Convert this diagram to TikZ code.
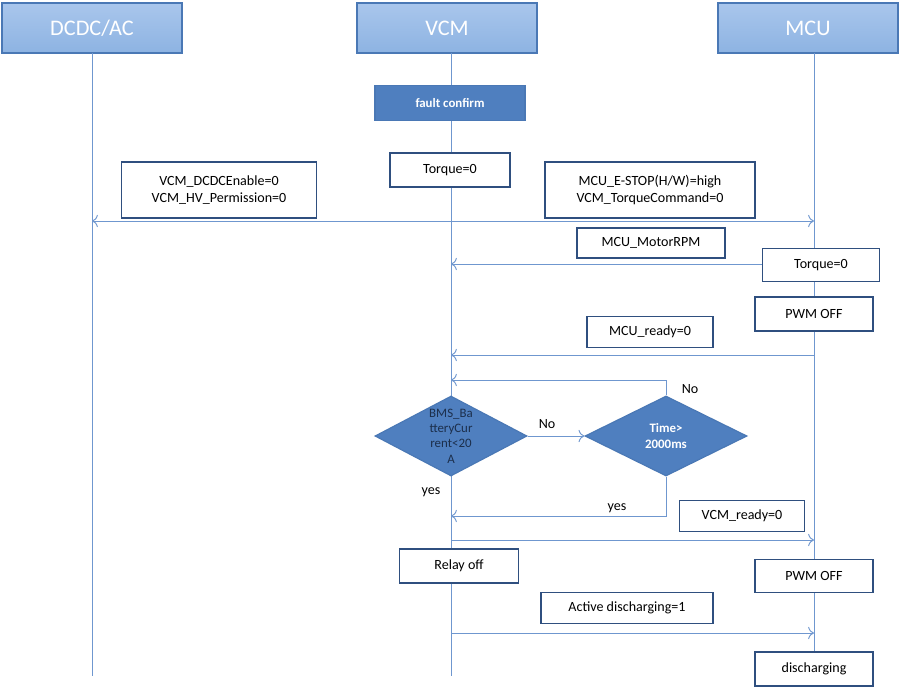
\documentclass[tikz,border=0pt]{standalone}
\usepackage{fontspec}
\setmainfont{Carlito}
\usetikzlibrary{shapes.geometric,arrows.meta}
\definecolor{hdr}{HTML}{8DB3E2}
\definecolor{hdrtop}{HTML}{A9C6EC}
\definecolor{hdrb}{HTML}{4A78B5}
\definecolor{dk}{HTML}{4F7FBF}
\definecolor{ln}{HTML}{6F97CF}
\definecolor{bx}{HTML}{2F4F7F}
\tikzset{
 hd/.style={draw=hdrb,line width=1pt,top color=hdrtop,bottom color=hdr,text=white,font=\fontsize{19}{21}\selectfont,inner sep=0pt},
 bx/.style={draw=bx,line width=1pt,fill=white,font=\fontsize{12}{15}\selectfont,inner sep=0pt,align=center},
 life/.style={draw=ln,line width=0.8pt},
 msg/.style={draw=ln,line width=0.8pt,-{To[length=5pt]}},
 dia/.style={diamond,draw=hdrb,fill=dk,line width=1pt,inner sep=0pt,aspect=1.9,align=center,font=\fontsize{11}{13}\selectfont},
 lbl/.style={font=\fontsize{12}{14}\selectfont,inner sep=1pt}
}
\begin{document}
\begin{tikzpicture}[x=0.03cm,y=-0.03cm]
\useasboundingbox (0,0) rectangle (901,686);
\fill[white] (0,0) rectangle (901,686);
% headers
\node[hd,minimum width=5.4cm,minimum height=1.5cm] (h1) at (92,28) {DCDC/AC};
\node[hd,minimum width=5.4cm,minimum height=1.5cm] (h2) at (447,28) {VCM};
\node[hd,minimum width=5.4cm,minimum height=1.5cm] (h3) at (808,28) {MCU};
% lifelines
\coordinate (d0) at (92,53); \coordinate (d1) at (92,676);
\coordinate (v0) at (451,53); \coordinate (v1) at (451,676);
\coordinate (m0) at (814,53); \coordinate (m1) at (814,676);
\draw[life] (d0)--(d1); \draw[life] (v0)--(v1); \draw[life] (m0)--(m1);
% fault confirm
\node[draw=hdrb,fill=dk,line width=1pt,text=white,font=\bfseries\fontsize{11}{13}\selectfont,minimum width=4.5cm,minimum height=1.05cm] (fc) at (450,103) {fault confirm};
\node[bx,minimum width=3.6cm,minimum height=1.02cm] (tq1) at (450,170) {Torque=0};
\node[bx,minimum width=5.85cm,minimum height=1.68cm] (dcdc) at (219,190) {VCM\_DCDCEnable=0\\VCM\_HV\_Permission=0};
\node[bx,minimum width=6.3cm,minimum height=1.68cm] (estop) at (650,190) {MCU\_E-STOP(H/W)=high\\VCM\_TorqueCommand=0};
\coordinate (a1l) at (92,221); \coordinate (a1r) at (814,221);
\draw[msg,{To[length=5pt]}-{To[length=5pt]}] (a1l)--(a1r);
\node[bx,minimum width=4.44cm,minimum height=0.9cm] (rpm) at (651,243) {MCU\_MotorRPM};
\coordinate (a2m) at (814,264); \coordinate (a2v) at (451,264);
\draw[msg] (a2m)--(a2v);
\node[bx,minimum width=3.5cm,minimum height=1.0cm] (tq2) at (821,265) {Torque=0};
\node[bx,minimum width=3.54cm,minimum height=1.02cm] (pwm1) at (814,314) {PWM OFF};
\node[bx,minimum width=3.78cm,minimum height=0.93cm] (rdy) at (650,332) {MCU\_ready=0};
\coordinate (a3m) at (814,355); \coordinate (a3v) at (451,355);
\draw[msg] (a3m)--(a3v);
% decisions
\node[dia,minimum width=4.56cm,minimum height=2.4cm,text=bx!60!black] (bms) at (451,436) {BMS\_Ba\\tteryCur\\rent<20\\A};
\node[dia,minimum width=4.86cm,minimum height=2.4cm,text=white,font=\bfseries\fontsize{11}{14}\selectfont] (time) at (666,436) {Time>\\2000ms};
\draw[msg] (bms.east)--(time.west);
\node[lbl] at (547,424) {No};
\coordinate (lp1) at (666,380); \coordinate (lp2) at (451,380);
\draw[msg] (time.north)--(lp1)--(lp2);
\node[lbl] at (690,389) {No};
\coordinate (ys1) at (666,516); \coordinate (ys2) at (451,516);
\draw[msg] (time.south)--(ys1)--(ys2);
\node[lbl] at (617,508) {yes};
\node[lbl] at (431,492) {yes};
\node[bx,minimum width=3.75cm,minimum height=0.93cm] (vrdy) at (742,516) {VCM\_ready=0};
\coordinate (a4v) at (451,540); \coordinate (a4m) at (814,540);
\draw[msg] (a4v)--(a4m);
\node[bx,minimum width=3.57cm,minimum height=1.02cm] (relay) at (459,566) {Relay off};
\node[bx,minimum width=3.54cm,minimum height=0.99cm] (pwm2) at (814,576) {PWM OFF};
\node[bx,minimum width=5.16cm,minimum height=0.93cm] (act) at (627,608) {Active discharging=1};
\coordinate (a5v) at (451,633); \coordinate (a5m) at (814,633);
\draw[msg] (a5v)--(a5m);
\node[bx,minimum width=3.54cm,minimum height=1.02cm] (dis) at (814,669) {discharging};
\end{tikzpicture}
\end{document}
